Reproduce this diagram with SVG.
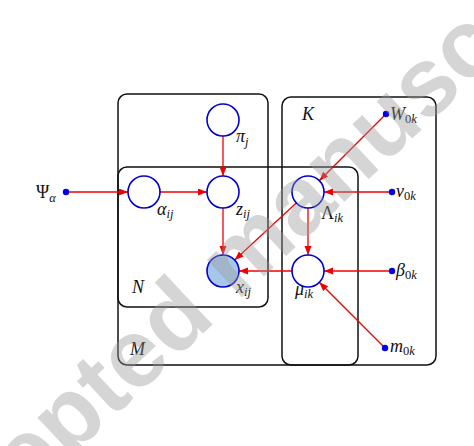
<svg xmlns="http://www.w3.org/2000/svg" width="474" height="446" viewBox="0 0 474 446">
<style>
.plate{fill:none;stroke:#111;stroke-width:1.5}
.node{fill:#fff;stroke:#0000d0;stroke-width:1.6}
.obs{fill:#a7c7ea;stroke:#0000d0;stroke-width:1.6}
.dot{fill:#0000ee}
.edge{stroke:#f00000;stroke-width:1.3;fill:none;marker-end:url(#ah)}
text.m{font-family:"Liberation Serif","Times New Roman",serif;font-style:italic;font-size:18px;fill:#111}
tspan.u{font-style:normal}
tspan.s{font-size:12.5px}
text.wm{font-family:"Liberation Sans",Arial,sans-serif;font-weight:bold;font-size:97px;fill:#999;opacity:0.4}
</style>
<defs>
<marker id="ah" markerUnits="userSpaceOnUse" markerWidth="10" markerHeight="8" refX="9" refY="3.5" orient="auto">
<path d="M0,0 L9,3.5 L0,7 z" fill="#f00000"/>
</marker>
</defs>
<rect width="474" height="446" fill="#fff"/>
<g id="plates">
<rect id="plate-N" class="plate" x="118" y="94" width="150" height="213" rx="9"/>
<rect id="plate-M" class="plate" x="118" y="167" width="240" height="198" rx="9"/>
<rect id="plate-K" class="plate" x="282" y="97" width="154" height="268" rx="9"/>
<text class="m" x="132" y="293">N</text>
<text class="m" x="130" y="355">M</text>
<text class="m" x="302" y="120">K</text>
</g>
<g id="connectors">
<line class="edge" x1="69" y1="192" x2="128" y2="192"/>
<line class="edge" x1="160" y1="192" x2="207" y2="192"/>
<line class="edge" x1="223" y1="136" x2="223" y2="176"/>
<line class="edge" x1="223" y1="208" x2="223" y2="255"/>
<line class="edge" x1="296.3" y1="202.9" x2="234.7" y2="260.1"/>
<line class="edge" x1="292" y1="271" x2="239" y2="271"/>
<line class="edge" x1="308" y1="208" x2="308" y2="255"/>
<line class="edge" x1="386" y1="114" x2="319.3" y2="180.7"/>
<line class="edge" x1="392" y1="192" x2="324" y2="192"/>
<line class="edge" x1="392" y1="271" x2="324" y2="271"/>
<line class="edge" x1="385" y1="348" x2="319.3" y2="282.3"/>
</g>
<g id="node-psi"><circle class="dot" cx="66" cy="192" r="3.2"/><text class="m" x="36" y="198"><tspan class="u">Ψ</tspan><tspan class="s" dy="4">α</tspan></text></g>
<g id="node-alpha"><circle class="node" cx="144" cy="192" r="16"/><text class="m" x="157" y="215">α<tspan class="s" dy="3">ij</tspan></text></g>
<g id="node-pi"><circle class="node" cx="223" cy="120" r="16"/><text class="m" x="236" y="142">π<tspan class="s" dy="4">j</tspan></text></g>
<g id="node-z"><circle class="node" cx="223" cy="192" r="16"/><text class="m" x="236" y="215">z<tspan class="s" dy="3">ij</tspan></text></g>
<g id="node-x"><circle class="obs" cx="223" cy="271" r="16"/><text class="m" x="236" y="293">x<tspan class="s" dy="3">ij</tspan></text></g>
<g id="node-lambda"><circle class="node" cx="308" cy="192" r="16"/><text class="m" x="321" y="219"><tspan class="u">Λ</tspan><tspan class="s" dy="3">ik</tspan></text></g>
<g id="node-mu"><circle class="node" cx="308" cy="271" r="16"/><text class="m" x="295" y="295">μ<tspan class="s" dy="3">ik</tspan></text></g>
<g id="node-W"><circle class="dot" cx="386" cy="114" r="3.2"/><text class="m" x="390" y="120">W<tspan class="s u" dy="3">0</tspan><tspan class="s">k</tspan></text></g>
<g id="node-nu"><circle class="dot" cx="392" cy="192" r="3.2"/><text class="m" x="396" y="197">ν<tspan class="s u" dy="3">0</tspan><tspan class="s">k</tspan></text></g>
<g id="node-beta"><circle class="dot" cx="392" cy="271" r="3.2"/><text class="m" x="396" y="276">β<tspan class="s u" dy="3">0</tspan><tspan class="s">k</tspan></text></g>
<g id="node-m"><circle class="dot" cx="385" cy="348" r="3.2"/><text class="m" x="390" y="352">m<tspan class="s u" dy="3">0</tspan><tspan class="s">k</tspan></text></g>
<text class="wm" transform="translate(-102,618) rotate(-43)">Accepted manuscript</text>
</svg>
